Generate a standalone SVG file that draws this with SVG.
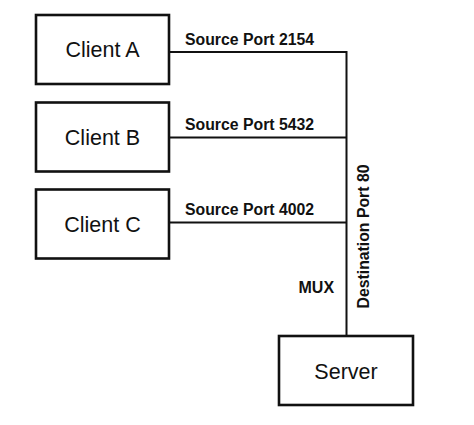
<svg xmlns="http://www.w3.org/2000/svg" width="474" height="425" viewBox="0 0 474 425">
<style>
.box{fill:#fff;stroke:#111;stroke-width:2.6}
.lbl{font-family:"Liberation Sans",Arial,sans-serif;font-size:21.5px;fill:#111;text-anchor:middle}
.port{font-family:"Liberation Sans",Arial,sans-serif;font-size:15.8px;font-weight:bold;fill:#111}
.wire{fill:none;stroke:#111;stroke-width:2}
</style>
<rect width="474" height="425" fill="#fff"/>
<g id="connectors">
<path class="wire" d="M169 52H346.5V336"/>
<path class="wire" d="M169 137.5H346.5"/>
<path class="wire" d="M169 222.5H346.5"/>
<text class="port" x="185" y="45">Source Port 2154</text>
<text class="port" x="185" y="129.5">Source Port 5432</text>
<text class="port" x="185" y="214.5">Source Port 4002</text>
<text class="port" x="298.5" y="292.5" style="font-size:16px">MUX</text>
<text class="port" transform="translate(369.3 308.5) rotate(-90)">Destination Port 80</text>
</g>
<g id="client-a"><rect class="box" x="36" y="15" width="133" height="69"/><text class="lbl" x="102.5" y="57.3">Client A</text></g>
<g id="client-b"><rect class="box" x="36" y="102.5" width="133" height="69"/><text class="lbl" x="102.5" y="145.3">Client B</text></g>
<g id="client-c"><rect class="box" x="36" y="189.5" width="133" height="69"/><text class="lbl" x="102.5" y="232.3">Client C</text></g>
<g id="server"><rect class="box" x="279" y="336" width="134" height="69"/><text class="lbl" x="346" y="378.7">Server</text></g>
</svg>
